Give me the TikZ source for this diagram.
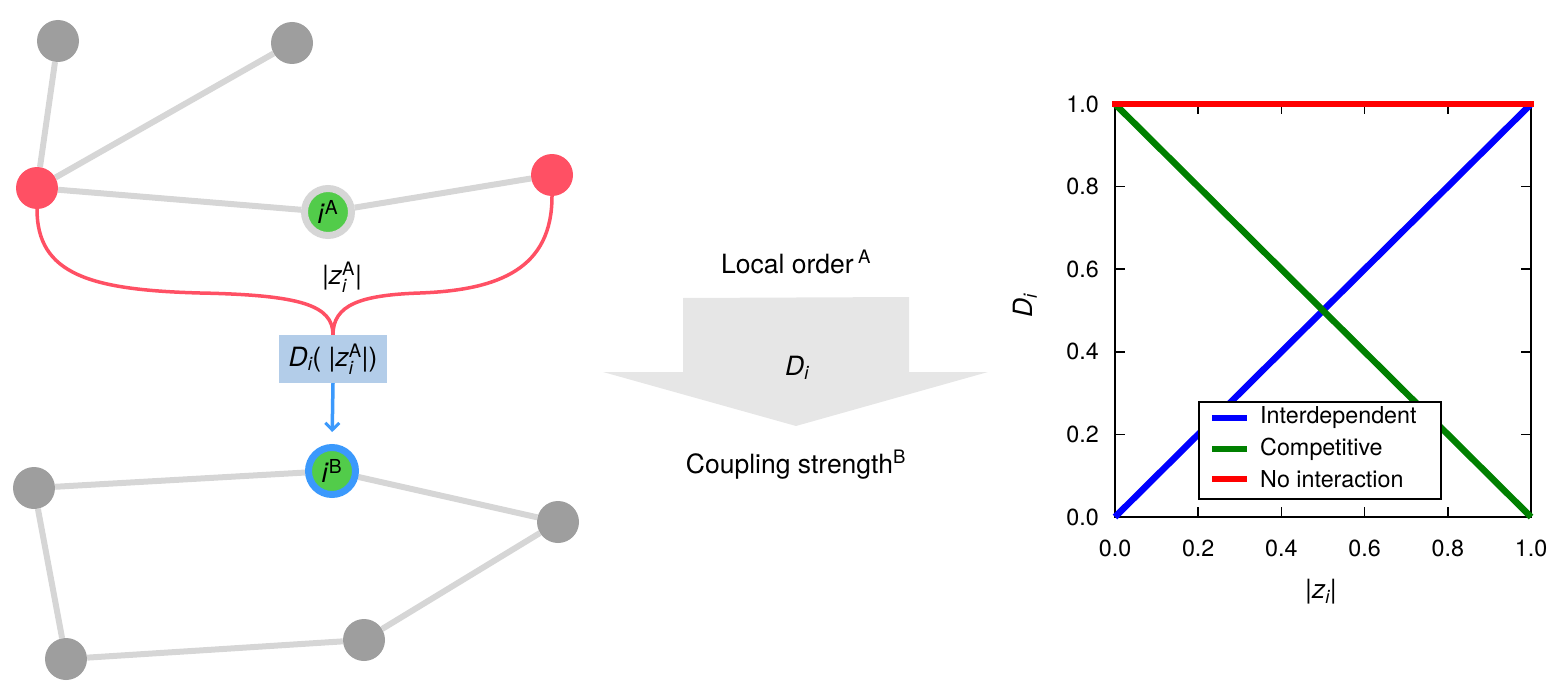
\documentclass[tikz,border=0pt]{standalone}
\usepackage{fontspec}
\usepackage{amsmath}
\setmainfont{TeX Gyre Heros}
\usetikzlibrary{arrows.meta,backgrounds}
\definecolor{edgegray}{HTML}{D6D6D6}
\definecolor{nodegray}{HTML}{9E9E9E}
\definecolor{nodered}{HTML}{FF5064}
\definecolor{nodegreen}{HTML}{52CC4A}
\definecolor{ringblue}{HTML}{3B99FC}
\definecolor{boxblue}{HTML}{B3CDE9}
\definecolor{arrowgray}{HTML}{E6E6E6}
\definecolor{pgreen}{HTML}{008000}
\newcommand\mainfnt{\fontsize{26.5}{31}\selectfont}
\newcommand\tickfnt{\fontsize{23.3}{28}\selectfont}
\newcommand\zabs[1]{$\text{|}\textit{z}_{\textit{i}}^{\text{#1}}\text{|}$}
\begin{document}
\begin{tikzpicture}[x=1pt,y=-1pt,
  edge/.style={draw=edgegray,line width=6pt},
  gnode/.style={circle,fill=nodegray,minimum size=42pt,inner sep=0pt},
  rnode/.style={circle,fill=nodered,minimum size=42pt,inner sep=0pt},
  focus/.style={circle,fill=nodegreen,draw=#1,line width=7pt,minimum size=47pt,inner sep=0pt,font=\fontsize{27.5}{32}\selectfont},
  redcurve/.style={draw=nodered,line width=3.5pt},
  bluearrow/.style={draw=ringblue,line width=3.5pt,-{Straight Barb[length=7pt,width=14pt,line width=3pt]}},
  txt/.style={font=\mainfnt,inner sep=0pt},
  tick/.style={draw=black,line width=1.5pt},
  plotline/.style={line width=6.5pt}]
\useasboundingbox (0,0) rectangle (1563,690);

% top network
\node[gnode] (a1) at (58,41) {};
\node[gnode] (a2) at (292,43) {};
\node[rnode] (a3) at (37,188) {};
\node[rnode] (a4) at (552,175) {};
\node[focus=edgegray] (iA) at (328,212) {\textit{i}\textsuperscript{A}};
% bottom network
\node[focus=ringblue] (iB) at (332,471) {\textit{i}\textsuperscript{B}};
\node[gnode] (b1) at (34,488) {};
\node[gnode] (b2) at (558,522) {};
\node[gnode] (b3) at (364,640) {};
\node[gnode] (b4) at (66,659) {};
\begin{scope}[on background layer]
  \draw[edge] (a1) -- (a3);
  \draw[edge] (a2) -- (a3);
  \draw[edge] (a3) -- (iA);
  \draw[edge] (iA) -- (a4);
  \draw[edge] (b1) -- (iB);
  \draw[edge] (iB) -- (b2);
  \draw[edge] (b2) -- (b3);
  \draw[edge] (b3) -- (b4);
  \draw[edge] (b4) -- (b1);
\end{scope}

% function box and curves
\node[fill=boxblue,minimum width=108pt,minimum height=48pt,inner sep=0pt,font=\mainfnt] (Df) at (333,359)
  {$\textit{D}_{\textit{i}}$( \zabs{A})};
\node[txt] (zl) at (342,277) {\zabs{A}};
\draw[redcurve] (a3.south) .. controls +(0,65) and (90,290) .. (200,293)
  .. controls (300,295) and (333,305) .. (Df.north);
\draw[redcurve] (a4.south) .. controls +(0,72) and (500,290) .. (420,293)
  .. controls (360,295) and (333,305) .. (Df.north);
\draw[bluearrow,shorten >=12pt] (Df.south) -- (iB.north);

% big arrow
\fill[arrowgray] (683,298) -- (909,297) -- (909,372) -- (988,372) -- (796,426)
  -- (603,372) -- (683,372) -- cycle;
\node[txt,anchor=base] (lo) at (796,273) {Local order\,\textsuperscript{A}};
\node[txt,anchor=base] (di) at (797,375) {$\textit{D}_{\textit{i}}$};
\node[txt,anchor=base] (cs) at (796,473) {Coupling strength\textsuperscript{B}};

% plot
\begin{scope}[xshift=1115pt,yshift=-517pt,x=416pt,y=413pt]
  \foreach \t/\n in {0/0.0,0.2/0.2,0.4/0.4,0.6/0.6,0.8/0.8,1/1.0}{
    \draw[tick] (0,\t) -- ++(10pt,0);
    \draw[tick] (1,\t) -- ++(-10pt,0);
    \draw[tick] (\t,0) -- ++(0,10pt);
    \draw[tick] (\t,1) -- ++(0,-10pt);
    \node[anchor=east,inner sep=0pt,font=\tickfnt] (yl\n) at ([xshift=-16pt]0,\t) {\n};
    \node[anchor=north,inner sep=0pt,font=\tickfnt] (xl\n) at ([yshift=-23pt]\t,0) {\n};
  }
  \draw[line width=1.5pt] (0,0) rectangle (1,1);
  \draw[plotline,blue] (0,0) -- (1,1);
  \draw[plotline,pgreen] (0,1) -- (1,0);
  \draw[plotline,red,line cap=rect] (0,1) -- (1,1);
\end{scope}
\node[txt,rotate=90] (ylab) at (1025,306) {$\textit{D}_{\textit{i}}$};
\node[txt] (xlab) at (1321,592) {$\text{|}\textit{z}_{\textit{i}}\text{|}$};

% legend
\node[draw=black,line width=1.5pt,fill=white,minimum width=242pt,minimum height=97pt,inner sep=0pt] (leg) at (1320,450.5) {};
\draw[plotline,blue] (1212,418) -- (1247,418);
\draw[plotline,pgreen] (1212,449) -- (1247,449);
\draw[plotline,red] (1212,479) -- (1247,479);
\node[anchor=west,inner sep=0pt,font=\tickfnt] (l1) at (1260,418) {Interdependent};
\node[anchor=west,inner sep=0pt,font=\tickfnt] (l2) at (1260,449) {Competitive};
\node[anchor=west,inner sep=0pt,font=\tickfnt] (l3) at (1260,479) {No interaction};
\end{tikzpicture}
\end{document}
